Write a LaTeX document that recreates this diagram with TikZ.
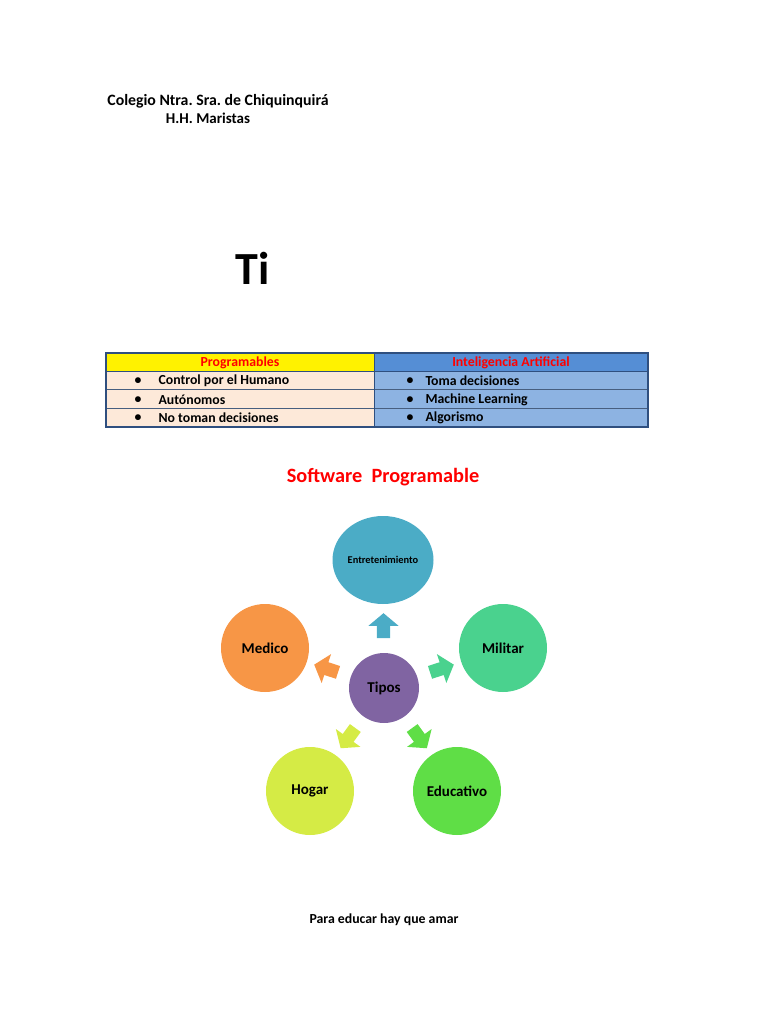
\documentclass[tikz,border=0pt]{standalone}
\usepackage{fontspec}
\setmainfont{Carlito}
\frenchspacing
\usetikzlibrary{positioning,shapes.arrows,shapes.geometric,calc}
\definecolor{tabline}{HTML}{2F4F7F}
\definecolor{peach}{HTML}{FDE9D9}
\definecolor{headblue}{HTML}{558ED5}
\definecolor{bodyblue}{HTML}{8DB3E2}
\definecolor{cEnt}{HTML}{4BACC6}
\definecolor{cMed}{HTML}{F79646}
\definecolor{cMil}{HTML}{4AD28E}
\definecolor{cHog}{HTML}{D5EB45}
\definecolor{cEdu}{HTML}{5FDE46}
\definecolor{cTip}{HTML}{8064A2}

\begin{document}
\begin{tikzpicture}[x=1pt, y=-1pt, font=\bfseries,
    bubble/.style={circle, minimum size=88pt, inner sep=0pt, font=\fontsize{15}{17}\selectfont\bfseries},
    blockarrow/.style={single arrow, inner sep=6.5pt, minimum height=25pt,
        single arrow head extend=8.5pt, single arrow tip angle=100},
    cell/.style={anchor=west, font=\fontsize{13.8}{15}\selectfont\bfseries}]
    \useasboundingbox (0,0) rectangle (768,1024);
    % header
    \node[font=\fontsize{15.8}{18}\selectfont\bfseries] (colegio) at (218,101) {Colegio Ntra. Sra. de Chiquinquirá};
    \node[font=\fontsize{15}{18}\selectfont\bfseries] (maristas) at (208,118) {H.H. Maristas};
    \node[font=\fontsize{46}{50}\selectfont\bfseries] (ti) at (253,268) {Ti};

    % table
    \fill[yellow] (106,353) rectangle (374,371);
    \fill[headblue] (374,353) rectangle (648,371);
    \fill[peach] (106,371) rectangle (374,427);
    \fill[bodyblue] (374,371) rectangle (648,427);
    \draw[tabline, thick] (106,371) -- (648,371);
    \draw[tabline!70!gray] (106,389) -- (648,389) (106,408) -- (648,408);
    \draw[tabline] (374,353) -- (374,427);
    \draw[tabline, line width=1.6pt] (106,353) rectangle (648,427);
    \node[red, font=\fontsize{13.8}{15}\selectfont\bfseries] (prog) at (240,363) {Programables};
    \node[red, font=\fontsize{13.8}{15}\selectfont\bfseries] (ia) at (511,363) {Inteligencia Artificial};
    \foreach \y/\a/\b in {381/Control por el Humano/Toma decisiones,
                          400/Autónomos/Machine Learning,
                          418/No toman decisiones/Algorismo} {
        \node[cell] at (131,\y) {\textbullet};
        \node[cell] at (155,\y) {\a};
        \node[cell] at (403,\y) {\textbullet};
        \node[cell] at (422,\y) {\b};
    }

    % title
    \node[red, font=\fontsize{20.3}{23}\selectfont\bfseries] (titulo) at (383,477) {Software\ \ Programable};

    % radial diagram
    \node[bubble, fill=cTip, minimum size=70pt] (tipos) at (384,688) {Tipos};
    \node[ellipse, fill=cEnt, minimum width=101pt, minimum height=88pt, inner sep=0pt,
          font=\fontsize{10.4}{12}\selectfont\bfseries] (entre) at (383,560) {Entretenimiento};
    \node[bubble, fill=cMed] (medico) at (265,648) {Medico};
    \node[bubble, fill=cMil] (militar) at (503,648) {Militar};
    \node[bubble, fill=cHog] (hogar) at (310,791) {Hogar};
    \node[bubble, fill=cEdu] (educativo) at (457,791) {Educativo};

    \node[blockarrow, fill=cEnt, rotate=90] at ($(tipos.90)!0.5!(entre.270)$) {};
    \node[blockarrow, fill=cMil, rotate=18] at ($(tipos.18)!0.5!(militar.198)$) {};
    \node[blockarrow, fill=cMed, rotate=162] at ($(tipos.162)!0.5!(medico.342)$) {};
    \node[blockarrow, fill=cHog, rotate=234] at ($(tipos.234)!0.5!(hogar.54)$) {};
    \node[blockarrow, fill=cEdu, rotate=306] at ($(tipos.306)!0.5!(educativo.126)$) {};

    % footer
    \node[font=\fontsize{13.8}{16}\selectfont\bfseries] (lema) at (384,920) {Para educar hay que amar};
\end{tikzpicture}
\end{document}
